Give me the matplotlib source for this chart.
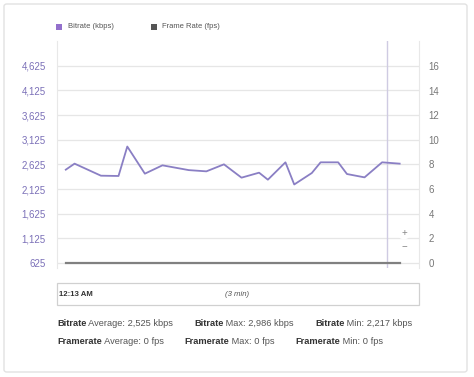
import matplotlib
matplotlib.use("Agg")
import matplotlib.pyplot as plt
from matplotlib.patches import FancyBboxPatch, Rectangle

# ---- data ----
sample_index = [0, 1, 4, 6, 7, 9, 11, 14, 16, 18, 20, 22, 23, 25, 26, 28, 29, 31, 32, 34, 36, 38]
bitrate_kbps = [2517, 2639, 2395, 2389, 2986, 2436, 2605, 2508, 2483, 2625, 2355, 2456, 2314,
                2666, 2217, 2449, 2666, 2666, 2429, 2361, 2666, 2639]
framerate_fps = [0] * len(sample_index)
bitrate_ticks = [625, 1125, 1625, 2125, 2625, 3125, 3625, 4125, 4625]
fps_ticks = [0, 2, 4, 6, 8, 10, 12, 14, 16]
cursor_index = 36.6
legend_labels = ["Bitrate (kbps)", "Frame Rate (fps)"]
start_label = "12:13 AM"
duration_label = "(3 min)"
stats_row1 = [("Bitrate", " Average: 2,525 kbps"), ("Bitrate", " Max: 2,986 kbps"), ("Bitrate", " Min: 2,217 kbps")]
stats_row2 = [("Framerate", " Average: 0 fps"), ("Framerate", " Max: 0 fps"), ("Framerate", " Min: 0 fps")]

plt.rcParams['font.family'] = ['Liberation Sans', 'DejaVu Sans']

W, H = 474, 377
fig = plt.figure(figsize=(W / 100, H / 100), dpi=100)
fig.patch.set_facecolor('white')

def fx(px):
    return px / W

def fy(py):
    return 1 - py / H

# outer card border
fig.patches.append(FancyBboxPatch((fx(4), fy(372)), fx(463), (372 - 4) / H,
                                  boxstyle="round,pad=0,rounding_size=0.006",
                                  transform=fig.transFigure, facecolor='none',
                                  edgecolor='#e2e2e2', linewidth=1.0, zorder=-5))

ax_left, ax_right, ax_top, ax_bot = 57, 419, 41, 268
ax = fig.add_axes([fx(ax_left), fy(ax_bot), fx(ax_right - ax_left), (ax_bot - ax_top) / H])
ax.set_zorder(2)
ax.set_facecolor('none')
ax.set_xlim(-1, 40.2)
ax.set_ylim(524, 5125)
for s in ['top', 'bottom']:
    ax.spines[s].set_visible(False)
ax.spines['left'].set_color('#e8e8e8')
ax.spines['right'].set_color('#e8e8e8')
ax.set_xticks([])
ax.set_yticks(bitrate_ticks)
ax.set_yticklabels([f"{v:,}" for v in bitrate_ticks])
ax.tick_params(axis='y', length=0, pad=8, labelsize=7, labelcolor='#7b70b8')
for t in bitrate_ticks:
    ax.axhline(t, color='#e6e6e6', linewidth=0.9, zorder=1)

ax2 = ax.twinx()
ax2.set_ylim(-0.41, 18.03)
ax2.set_yticks(fps_ticks)
ax2.set_yticklabels([str(v) for v in fps_ticks])
ax2.tick_params(axis='y', length=0, pad=7, labelsize=7, labelcolor='#777777')
for s in ['top', 'bottom', 'left', 'right']:
    ax2.spines[s].set_visible(False)

ax2.axvline(cursor_index, color='#cfcbe2', linewidth=1.0, zorder=2)
ax2.plot(sample_index, framerate_fps, color='#808080', linewidth=1.6, zorder=3)
# bitrate drawn in the primary axes' data coordinates
ax2.plot(sample_index, bitrate_kbps, color='#8a7fc4', linewidth=1.3, zorder=4,
         transform=ax.transData)

# zoom +/- controls
for py, sym in [(233, '+'), (247, '\u2212')]:
    fig.text(fx(404), fy(py), sym, ha='center', va='center', fontsize=7, color='#888888',
             bbox=dict(boxstyle='circle,pad=0.15', fc='white', ec='none'), zorder=10)

# legend
fig.patches.append(Rectangle((fx(56), fy(30)), fx(6), 6 / H, transform=fig.transFigure,
                             facecolor='#9370cc', edgecolor='none'))
fig.text(fx(68), fy(27), legend_labels[0], fontsize=5.5, color='#555555', va='center')
fig.patches.append(Rectangle((fx(151), fy(30)), fx(6), 6 / H, transform=fig.transFigure,
                             facecolor='#555555', edgecolor='none'))
fig.text(fx(162), fy(27), legend_labels[1], fontsize=5.5, color='#555555', va='center')

# time range box
fig.patches.append(Rectangle((fx(57), fy(305)), fx(362), 22 / H, transform=fig.transFigure,
                             facecolor='white', edgecolor='#d0d0d0', linewidth=0.9))
fig.text(fx(59), fy(294), start_label, fontsize=5.6, fontweight='bold', color='#333333', va='center')
fig.text(fx(237), fy(294), duration_label, fontsize=5.6, fontstyle='italic', color='#555555',
         va='center', ha='center')

# stats
def stat(px, py, bold, rest):
    t = fig.text(fx(px), fy(py), bold, fontsize=6.7, fontweight='bold', color='#333333', va='center')
    fig.canvas.draw()
    bb = t.get_window_extent()
    fig.text(bb.x1 / W, fy(py), rest, fontsize=6.7, color='#555555', va='center')

for px, (b, r) in zip([57, 194, 315], stats_row1):
    stat(px, 323, b, r)
for px, (b, r) in zip([57, 184, 295], stats_row2):
    stat(px, 341, b, r)

fig.savefig('out.png', dpi=100, facecolor='white')
